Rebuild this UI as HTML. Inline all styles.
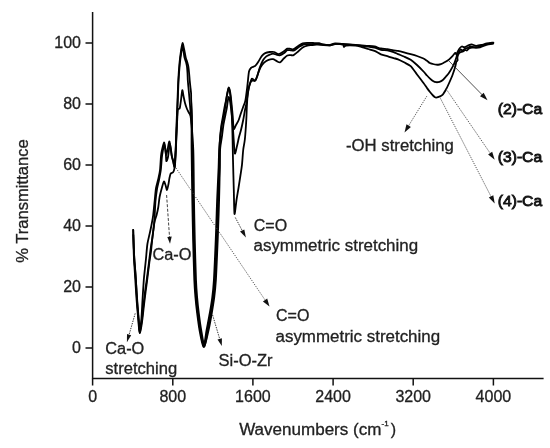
<!DOCTYPE html>
<html><head><meta charset="utf-8"><title>FTIR spectra</title>
<style>html,body{margin:0;padding:0;background:#fff;width:550px;height:448px;overflow:hidden}svg{display:block}</style>
</head><body>
<svg width="550" height="448" viewBox="0 0 550 448">
<rect width="550" height="448" fill="#fff"/>
<g stroke="#111" stroke-width="1.5" fill="none">
<path d="M92.6,12 V378.5 H543.6"/>
<path d="M85.5,348.0 H92.6"/>
<path d="M85.5,287.0 H92.6"/>
<path d="M85.5,226.0 H92.6"/>
<path d="M85.5,165.0 H92.6"/>
<path d="M85.5,104.0 H92.6"/>
<path d="M85.5,43.0 H92.6"/>
<path d="M92.6,378.6 V385.5"/>
<path d="M172.8,378.6 V385.5"/>
<path d="M252.9,378.6 V385.5"/>
<path d="M333.1,378.6 V385.5"/>
<path d="M413.2,378.6 V385.5"/>
<path d="M493.4,378.6 V385.5"/>
</g>
<g stroke="#000" stroke-width="1.8" fill="none" stroke-linejoin="round" stroke-linecap="round">
<path d="M133.20,229.80C133.28,233.16 133.56,248.97 133.80,255.00C134.04,261.03 134.63,269.00 135.00,275.00C135.37,281.00 136.16,294.00 136.60,300.00C137.04,306.00 137.91,315.60 138.30,320.00C138.69,324.40 139.10,333.00 139.50,333.00C139.90,333.00 140.90,324.40 141.30,320.00C141.70,315.60 142.17,305.33 142.50,300.00C142.83,294.67 143.47,284.27 143.80,280.00C144.13,275.73 144.71,270.87 145.00,268.00C145.29,265.13 145.68,261.70 146.00,258.50C146.32,255.30 146.92,247.28 147.40,244.00C147.88,240.72 149.05,236.43 149.60,233.90C150.15,231.37 151.02,227.52 151.50,225.00C151.98,222.48 152.77,218.27 153.20,215.00C153.63,211.73 154.33,204.07 154.70,200.50C155.07,196.93 155.51,191.15 156.00,188.20C156.49,185.25 157.87,180.83 158.40,178.40C158.93,175.97 159.65,172.99 160.00,170.00C160.35,167.01 160.73,158.67 161.00,156.00C161.27,153.33 161.60,151.80 162.00,150.00C162.40,148.20 163.57,142.77 164.00,142.50C164.43,142.23 164.93,146.33 165.20,148.00C165.47,149.67 165.69,154.73 166.00,155.00C166.31,155.27 167.03,151.80 167.50,150.00C167.97,148.20 168.97,140.83 169.50,141.50C170.03,142.17 171.03,152.53 171.50,155.00C171.97,157.47 172.61,158.53 173.00,160.00C173.39,161.47 174.05,167.33 174.40,166.00C174.75,164.67 175.32,155.47 175.60,150.00C175.88,144.53 176.25,131.67 176.50,125.00C176.75,118.33 177.26,106.00 177.50,100.00C177.74,94.00 178.03,84.93 178.30,80.00C178.57,75.07 179.14,66.87 179.50,63.00C179.86,59.13 180.60,53.67 181.00,51.00C181.40,48.33 182.06,43.13 182.50,43.00C182.94,42.87 183.87,48.08 184.30,50.00C184.73,51.92 185.31,55.80 185.70,57.40C186.09,59.00 186.84,60.75 187.20,62.00C187.56,63.25 188.15,65.33 188.40,66.80C188.65,68.27 188.93,71.21 189.10,73.00C189.27,74.79 189.53,78.33 189.70,80.20C189.87,82.07 190.21,85.23 190.40,87.00C190.59,88.77 190.99,91.77 191.10,93.50C191.21,95.23 191.08,97.13 191.20,100.00C191.32,102.87 191.85,108.33 192.00,115.00C192.15,121.67 192.17,138.67 192.30,150.00C192.43,161.33 192.80,188.00 193.00,200.00C193.20,212.00 193.53,229.33 193.80,240.00C194.07,250.67 194.69,272.40 195.00,280.00C195.31,287.60 195.73,292.60 196.10,297.00C196.47,301.40 197.25,308.60 197.80,313.00C198.35,317.40 199.37,325.44 200.20,330.00C201.03,334.56 202.88,347.20 204.00,347.20C205.12,347.20 207.56,334.56 208.60,330.00C209.64,325.44 211.04,317.40 211.80,313.00C212.56,308.60 213.75,301.40 214.30,297.00C214.85,292.60 215.50,286.27 215.90,280.00C216.30,273.73 217.01,256.67 217.30,250.00C217.59,243.33 217.86,236.67 218.10,230.00C218.34,223.33 218.87,208.40 219.10,200.00C219.33,191.60 219.73,173.67 219.80,167.00C219.87,160.33 219.55,154.13 219.60,150.00C219.65,145.87 219.93,139.47 220.20,136.00C220.47,132.53 221.20,126.80 221.60,124.00C222.00,121.20 222.80,117.27 223.20,115.00C223.60,112.73 224.24,108.87 224.60,107.00C224.96,105.13 225.54,102.87 225.90,101.00C226.26,99.13 226.91,94.80 227.30,93.00C227.69,91.20 228.40,87.50 228.80,87.50C229.20,87.50 229.91,90.67 230.30,93.00C230.69,95.33 231.37,101.80 231.70,105.00C232.03,108.20 232.53,113.80 232.80,117.00C233.07,120.20 233.27,127.93 233.70,129.00C234.13,130.07 235.33,126.20 236.00,125.00C236.67,123.80 238.03,121.60 238.70,120.00C239.37,118.40 240.36,114.87 241.00,113.00C241.64,111.13 242.91,107.68 243.50,106.00C244.09,104.32 244.88,103.11 245.40,100.40C245.92,97.69 246.92,89.55 247.40,85.70C247.88,81.85 248.48,73.91 249.00,71.50C249.52,69.09 250.47,68.35 251.30,67.60C252.13,66.85 254.24,66.73 255.20,65.90C256.16,65.07 257.61,62.73 258.50,61.40C259.39,60.07 261.01,57.01 261.90,55.90C262.79,54.79 264.16,53.62 265.20,53.10C266.24,52.58 268.51,52.15 269.70,52.00C270.89,51.85 272.91,51.71 274.10,52.00C275.29,52.29 277.33,54.27 278.60,54.20C279.87,54.13 282.44,52.23 283.60,51.50C284.76,50.77 286.38,49.06 287.30,48.70C288.22,48.34 289.66,48.73 290.50,48.80C291.34,48.87 292.57,49.57 293.60,49.20C294.63,48.83 296.99,46.77 298.20,46.00C299.41,45.23 301.49,43.81 302.70,43.40C303.91,42.99 305.93,42.95 307.30,42.90C308.67,42.85 311.43,42.96 313.00,43.00C314.57,43.04 317.81,43.03 319.10,43.20C320.39,43.37 321.25,44.06 322.70,44.30C324.15,44.54 328.35,45.13 330.00,45.00C331.65,44.87 333.41,43.45 335.10,43.30C336.79,43.15 339.98,43.69 342.70,43.90C345.42,44.11 352.95,44.70 355.50,44.90C358.05,45.10 360.11,45.28 361.80,45.40C363.49,45.52 366.51,45.65 368.20,45.80C369.89,45.95 372.81,46.14 374.50,46.50C376.19,46.86 379.19,48.14 380.90,48.50C382.61,48.86 385.61,48.95 387.30,49.20C388.99,49.45 392.17,50.17 393.60,50.40C395.03,50.63 396.61,50.65 398.00,50.90C399.39,51.15 402.31,51.87 404.00,52.30C405.69,52.73 408.97,53.61 410.70,54.10C412.43,54.59 415.29,55.41 417.00,56.00C418.71,56.59 422.17,57.86 423.50,58.50C424.83,59.14 426.16,60.20 427.00,60.80C427.84,61.40 429.00,62.57 429.80,63.00C430.60,63.43 432.15,63.77 433.00,64.00C433.85,64.23 435.33,64.63 436.20,64.70C437.07,64.77 438.66,64.66 439.50,64.50C440.34,64.34 441.63,63.89 442.50,63.50C443.37,63.11 445.15,62.12 446.00,61.60C446.85,61.08 448.01,60.37 448.90,59.60C449.79,58.83 451.85,56.69 452.70,55.80C453.55,54.91 454.79,53.07 455.30,52.90C455.81,52.73 456.17,54.69 456.50,54.50C456.83,54.31 457.40,52.30 457.80,51.50C458.20,50.70 458.97,49.17 459.50,48.50C460.03,47.83 461.20,46.67 461.80,46.50C462.40,46.33 463.41,47.20 464.00,47.20C464.59,47.20 465.61,46.75 466.20,46.50C466.79,46.25 467.68,45.59 468.40,45.30C469.12,45.01 470.59,44.23 471.60,44.30C472.61,44.37 474.69,45.71 476.00,45.80C477.31,45.89 479.95,45.32 481.40,45.00C482.85,44.68 485.30,43.72 486.90,43.40C488.50,43.08 492.53,42.71 493.40,42.60"/>
<path d="M133.20,229.80C133.32,233.16 133.78,248.97 134.10,255.00C134.42,261.03 135.21,269.00 135.60,275.00C135.99,281.00 136.60,294.00 137.00,300.00C137.40,306.00 138.23,315.60 138.60,320.00C138.97,324.40 139.37,333.00 139.80,333.00C140.23,333.00 141.31,323.73 141.80,320.00C142.29,316.27 143.07,308.73 143.50,305.00C143.93,301.27 144.57,295.33 145.00,292.00C145.43,288.67 146.18,283.88 146.70,280.00C147.22,276.12 148.42,266.73 148.90,262.90C149.38,259.07 149.95,253.95 150.30,251.30C150.65,248.65 151.21,244.93 151.50,243.00C151.79,241.07 152.17,239.20 152.50,236.80C152.83,234.40 153.71,227.91 154.00,225.00C154.29,222.09 154.50,218.20 154.70,215.00C154.90,211.80 155.19,204.47 155.50,201.00C155.81,197.53 156.53,191.80 157.00,189.00C157.47,186.20 158.49,182.53 159.00,180.00C159.51,177.47 160.43,172.93 160.80,170.00C161.17,167.07 161.53,160.53 161.80,158.00C162.07,155.47 162.45,152.80 162.80,151.00C163.15,149.20 164.00,144.23 164.40,144.50C164.80,144.77 165.55,150.80 165.80,153.00C166.05,155.20 166.01,160.47 166.30,161.00C166.59,161.53 167.51,159.27 168.00,157.00C168.49,154.73 169.47,144.00 170.00,144.00C170.53,144.00 171.56,154.60 172.00,157.00C172.44,159.40 172.93,160.67 173.30,162.00C173.67,163.33 174.45,168.60 174.80,167.00C175.15,165.40 175.63,155.60 175.90,150.00C176.17,144.40 176.55,131.67 176.80,125.00C177.05,118.33 177.56,106.00 177.80,100.00C178.04,94.00 178.33,84.80 178.60,80.00C178.87,75.20 179.45,67.60 179.80,64.00C180.15,60.40 180.83,55.40 181.20,53.00C181.57,50.60 182.17,45.47 182.60,46.00C183.03,46.53 183.95,54.87 184.40,57.00C184.85,59.13 185.65,60.69 186.00,62.00C186.35,63.31 186.80,65.33 187.00,66.80C187.20,68.27 187.39,71.21 187.50,73.00C187.61,74.79 187.68,78.33 187.80,80.20C187.92,82.07 188.24,85.23 188.40,87.00C188.56,88.77 188.79,91.10 189.00,93.50C189.21,95.90 189.73,101.73 190.00,105.00C190.27,108.27 190.56,112.00 191.00,118.00C191.44,124.00 192.90,139.07 193.30,150.00C193.70,160.93 193.80,188.00 194.00,200.00C194.20,212.00 194.53,229.33 194.80,240.00C195.07,250.67 195.69,272.40 196.00,280.00C196.31,287.60 196.73,292.60 197.10,297.00C197.47,301.40 198.25,308.60 198.80,313.00C199.35,317.40 200.43,325.53 201.20,330.00C201.97,334.47 203.75,346.50 204.60,346.50C205.45,346.50 206.77,334.47 207.60,330.00C208.43,325.53 210.04,317.40 210.80,313.00C211.56,308.60 212.75,301.40 213.30,297.00C213.85,292.60 214.50,286.27 214.90,280.00C215.30,273.73 216.01,256.67 216.30,250.00C216.59,243.33 216.86,236.67 217.10,230.00C217.34,223.33 217.77,208.40 218.10,200.00C218.43,191.60 219.33,173.67 219.60,167.00C219.87,160.33 219.97,152.93 220.10,150.00C220.23,147.07 220.33,146.96 220.60,145.00C220.87,143.04 221.73,137.97 222.10,135.30C222.47,132.63 222.96,127.71 223.40,125.00C223.84,122.29 224.95,117.27 225.40,115.00C225.85,112.73 226.48,109.87 226.80,108.00C227.12,106.13 227.56,102.47 227.80,101.00C228.04,99.53 228.33,97.13 228.60,97.00C228.87,96.87 229.48,98.53 229.80,100.00C230.12,101.47 230.67,105.33 231.00,108.00C231.33,110.67 231.98,116.40 232.30,120.00C232.62,123.60 233.07,130.55 233.40,135.00C233.73,139.45 234.32,151.93 234.80,153.40C235.28,154.87 236.44,148.19 237.00,146.00C237.56,143.81 238.47,139.13 239.00,137.00C239.53,134.87 240.44,132.27 241.00,130.00C241.56,127.73 242.67,122.67 243.20,120.00C243.73,117.33 244.56,112.27 245.00,110.00C245.44,107.73 246.13,105.27 246.50,103.00C246.87,100.73 247.47,95.13 247.80,93.00C248.13,90.87 248.69,88.33 249.00,87.00C249.31,85.67 249.73,84.11 250.10,83.00C250.47,81.89 251.35,79.17 251.80,78.70C252.25,78.23 253.05,79.27 253.50,79.50C253.95,79.73 254.68,80.87 255.20,80.40C255.72,79.93 256.81,77.64 257.40,76.00C257.99,74.36 258.85,70.19 259.60,68.10C260.35,66.01 262.11,61.86 263.00,60.30C263.89,58.74 265.41,57.15 266.30,56.40C267.19,55.65 268.81,55.07 269.70,54.70C270.59,54.33 272.11,53.60 273.00,53.60C273.89,53.60 275.51,54.47 276.40,54.70C277.29,54.93 278.66,55.53 279.70,55.30C280.74,55.07 283.19,53.68 284.20,53.00C285.21,52.32 286.46,50.56 287.30,50.20C288.14,49.84 289.66,50.25 290.50,50.30C291.34,50.35 292.57,50.97 293.60,50.60C294.63,50.23 296.99,48.27 298.20,47.50C299.41,46.73 301.49,45.24 302.70,44.80C303.91,44.36 305.93,44.28 307.30,44.20C308.67,44.12 311.44,44.20 313.00,44.20C314.56,44.20 316.73,44.07 319.00,44.20C321.27,44.33 327.85,45.25 330.00,45.20C332.15,45.15 333.41,43.92 335.10,43.80C336.79,43.68 339.98,44.11 342.70,44.30C345.42,44.49 352.95,45.00 355.50,45.20C358.05,45.40 360.11,45.61 361.80,45.80C363.49,45.99 366.51,46.36 368.20,46.60C369.89,46.84 372.81,47.17 374.50,47.60C376.19,48.03 379.19,49.43 380.90,49.80C382.61,50.17 385.61,50.09 387.30,50.40C388.99,50.71 392.17,51.61 393.60,52.10C395.03,52.59 396.61,53.51 398.00,54.10C399.39,54.69 402.31,55.74 404.00,56.50C405.69,57.26 408.97,58.67 410.70,59.80C412.43,60.93 415.29,63.44 417.00,65.00C418.71,66.56 422.17,70.10 423.50,71.50C424.83,72.90 426.16,74.59 427.00,75.50C427.84,76.41 429.00,77.57 429.80,78.30C430.60,79.03 432.15,80.48 433.00,81.00C433.85,81.52 435.33,82.09 436.20,82.20C437.07,82.31 438.66,82.05 439.50,81.80C440.34,81.55 441.63,81.01 442.50,80.30C443.37,79.59 445.15,77.47 446.00,76.50C446.85,75.53 448.01,74.32 448.90,73.00C449.79,71.68 451.95,67.96 452.70,66.60C453.45,65.24 453.99,64.08 454.50,62.80C455.01,61.52 456.10,58.24 456.50,57.00C456.90,55.76 457.17,54.23 457.50,53.50C457.83,52.77 458.57,52.03 459.00,51.50C459.43,50.97 460.23,49.63 460.70,49.50C461.17,49.37 461.99,50.57 462.50,50.50C463.01,50.43 463.94,49.31 464.50,49.00C465.06,48.69 466.17,48.40 466.70,48.20C467.23,48.00 467.99,47.73 468.50,47.50C469.01,47.27 469.63,46.54 470.50,46.50C471.37,46.46 473.73,47.20 475.00,47.20C476.27,47.20 478.48,46.90 480.00,46.50C481.52,46.10 484.64,44.64 486.40,44.20C488.16,43.76 492.29,43.33 493.20,43.20"/>
<path d="M133.30,235.00C133.45,238.33 134.05,254.00 134.40,260.00C134.75,266.00 135.53,274.67 135.90,280.00C136.27,285.33 136.81,294.67 137.20,300.00C137.59,305.33 138.41,315.60 138.80,320.00C139.19,324.40 139.63,333.00 140.10,333.00C140.57,333.00 141.78,323.73 142.30,320.00C142.82,316.27 143.56,308.73 144.00,305.00C144.44,301.27 145.17,295.33 145.60,292.00C146.03,288.67 146.71,283.88 147.20,280.00C147.69,276.12 148.79,266.73 149.30,262.90C149.81,259.07 150.57,254.78 151.00,251.30C151.43,247.82 152.03,240.71 152.50,236.80C152.97,232.89 153.95,224.91 154.50,222.00C155.05,219.09 156.09,217.00 156.60,215.00C157.11,213.00 157.90,209.40 158.30,207.00C158.70,204.60 159.09,199.67 159.60,197.00C160.11,194.33 161.53,189.07 162.10,187.00C162.67,184.93 163.45,181.77 163.90,181.50C164.35,181.23 165.09,183.87 165.50,185.00C165.91,186.13 166.60,190.13 167.00,190.00C167.40,189.87 168.18,185.55 168.50,184.00C168.82,182.45 169.11,179.80 169.40,178.40C169.69,177.00 170.21,174.31 170.70,173.50C171.19,172.69 172.61,172.95 173.10,172.30C173.59,171.65 174.12,170.24 174.40,168.60C174.68,166.96 174.96,163.81 175.20,160.00C175.44,156.19 175.93,145.33 176.20,140.00C176.47,134.67 176.99,124.00 177.20,120.00C177.41,116.00 177.56,111.50 177.80,110.00C178.04,108.50 178.73,109.02 179.00,108.75C179.27,108.48 179.53,109.17 179.80,108.00C180.07,106.83 180.67,102.37 181.00,100.00C181.33,97.63 181.97,90.73 182.30,90.20C182.63,89.67 183.14,94.29 183.50,96.00C183.86,97.71 184.53,101.27 185.00,103.00C185.47,104.73 186.49,107.73 187.00,109.00C187.51,110.27 188.33,111.57 188.80,112.50C189.27,113.43 190.14,114.33 190.50,116.00C190.86,117.67 191.35,120.47 191.50,125.00C191.65,129.53 191.49,140.00 191.60,150.00C191.71,160.00 192.10,188.00 192.30,200.00C192.50,212.00 192.83,229.33 193.10,240.00C193.37,250.67 193.99,272.40 194.30,280.00C194.61,287.60 195.03,292.60 195.40,297.00C195.77,301.40 196.55,308.60 197.10,313.00C197.65,317.40 198.66,325.47 199.50,330.00C200.34,334.53 202.45,347.00 203.40,347.00C204.35,347.00 205.75,334.53 206.60,330.00C207.45,325.47 209.04,317.40 209.80,313.00C210.56,308.60 211.75,301.40 212.30,297.00C212.85,292.60 213.50,286.27 213.90,280.00C214.30,273.73 215.01,256.67 215.30,250.00C215.59,243.33 215.86,236.67 216.10,230.00C216.34,223.33 216.77,208.40 217.10,200.00C217.43,191.60 218.33,173.67 218.60,167.00C218.87,160.33 218.86,154.23 219.10,150.00C219.34,145.77 220.04,138.63 220.40,135.30C220.76,131.97 221.40,127.23 221.80,125.00C222.20,122.77 223.00,120.60 223.40,118.60C223.80,116.60 224.47,112.24 224.80,110.00C225.13,107.76 225.57,103.93 225.90,101.80C226.23,99.67 226.91,95.84 227.30,94.00C227.69,92.16 228.39,87.73 228.80,88.00C229.21,88.27 230.04,93.07 230.40,96.00C230.76,98.93 231.26,106.13 231.50,110.00C231.74,113.87 232.05,121.00 232.20,125.00C232.35,129.00 232.49,135.33 232.60,140.00C232.71,144.67 232.84,153.33 233.00,160.00C233.16,166.67 233.60,182.80 233.80,190.00C234.00,197.20 234.14,212.67 234.50,214.00C234.86,215.33 235.97,203.47 236.50,200.00C237.03,196.53 237.97,191.33 238.50,188.00C239.03,184.67 240.03,178.12 240.50,175.00C240.97,171.88 241.64,167.93 242.00,164.60C242.36,161.27 242.81,153.41 243.20,150.00C243.59,146.59 244.49,143.00 244.90,139.00C245.31,135.00 246.05,124.13 246.30,120.00C246.55,115.87 246.65,110.93 246.80,108.00C246.95,105.07 247.19,100.40 247.40,98.00C247.61,95.60 248.11,91.73 248.40,90.00C248.69,88.27 249.25,86.13 249.60,85.00C249.95,83.87 250.60,82.10 251.00,81.50C251.40,80.90 252.13,80.57 252.60,80.50C253.07,80.43 254.05,81.13 254.50,81.00C254.95,80.87 255.56,80.43 256.00,79.50C256.44,78.57 257.17,75.67 257.80,74.00C258.43,72.33 259.86,68.52 260.70,67.00C261.54,65.48 263.05,63.56 264.10,62.60C265.15,61.64 267.41,60.25 268.60,59.80C269.79,59.35 271.96,59.05 273.00,59.20C274.04,59.35 275.47,60.47 276.40,60.90C277.33,61.33 279.04,62.69 280.00,62.40C280.96,62.11 282.63,59.62 283.60,58.70C284.57,57.78 286.38,55.97 287.30,55.50C288.22,55.03 289.66,55.25 290.50,55.20C291.34,55.15 292.57,55.59 293.60,55.10C294.63,54.61 296.99,52.53 298.20,51.50C299.41,50.47 301.49,48.19 302.70,47.40C303.91,46.61 306.09,45.91 307.30,45.60C308.51,45.29 310.59,45.22 311.80,45.10C313.01,44.98 315.17,44.74 316.40,44.70C317.63,44.66 319.19,44.69 321.00,44.80C322.81,44.91 328.12,45.61 330.00,45.50C331.88,45.39 333.41,44.13 335.10,44.00C336.79,43.87 341.51,44.10 342.70,44.50C343.89,44.90 343.56,46.87 344.00,47.00C344.44,47.13 344.47,45.69 346.00,45.50C347.53,45.31 353.39,45.39 355.50,45.60C357.61,45.81 360.11,46.65 361.80,47.10C363.49,47.55 366.51,48.49 368.20,49.00C369.89,49.51 372.81,50.19 374.50,50.90C376.19,51.61 379.19,53.59 380.90,54.30C382.61,55.01 385.61,55.69 387.30,56.20C388.99,56.71 392.17,57.69 393.60,58.10C395.03,58.51 396.61,58.74 398.00,59.30C399.39,59.86 402.31,61.38 404.00,62.30C405.69,63.22 408.97,64.57 410.70,66.20C412.43,67.83 415.29,72.26 417.00,74.50C418.71,76.74 422.17,81.20 423.50,83.00C424.83,84.80 426.16,86.83 427.00,88.00C427.84,89.17 429.00,90.80 429.80,91.80C430.60,92.80 432.24,94.74 433.00,95.50C433.76,96.26 434.83,97.27 435.50,97.50C436.17,97.73 437.07,97.56 438.00,97.20C438.93,96.84 441.43,95.83 442.50,94.80C443.57,93.77 445.15,91.01 446.00,89.50C446.85,87.99 448.01,85.50 448.90,83.50C449.79,81.50 451.85,76.77 452.70,74.50C453.55,72.23 454.82,68.17 455.30,66.50C455.78,64.83 455.99,62.83 456.30,62.00C456.61,61.17 457.45,60.90 457.60,60.30C457.75,59.70 457.28,58.34 457.40,57.50C457.52,56.66 458.15,54.67 458.50,54.00C458.85,53.33 459.40,52.83 460.00,52.50C460.60,52.17 462.33,51.83 463.00,51.50C463.67,51.17 464.47,50.13 465.00,50.00C465.53,49.87 466.47,50.70 467.00,50.50C467.53,50.30 468.33,48.90 469.00,48.50C469.67,48.10 471.07,47.59 472.00,47.50C472.93,47.41 474.93,47.83 476.00,47.80C477.07,47.77 478.61,47.70 480.00,47.30C481.39,46.90 484.64,45.29 486.40,44.80C488.16,44.31 492.29,43.76 493.20,43.60"/>
</g>
<g fill="none">
<path d="M448.5,60.5 L482.59,95.21" stroke="#222" stroke-width="0.8"/>
<path d="M446,88.8 L490.74,154.03" stroke="#444" stroke-width="0.9" stroke-dasharray="1.2,1.1"/>
<path d="M440,97.5 L491.49,197.38" stroke="#444" stroke-width="0.9" stroke-dasharray="1.2,1.1"/>
<path d="M426.8,96.2 L408.17,126.44" stroke="#444" stroke-width="0.9" stroke-dasharray="1.2,1.1"/>
<path d="M235.3,217.5 L242.63,231.41" stroke="#333" stroke-width="1.0" stroke-dasharray="1.4,1.1"/>
<path d="M176,168 L265.59,300.80" stroke="#444" stroke-width="0.9" stroke-dasharray="1.2,1.3"/>
<path d="M166.6,195 L169.58,237.71" stroke="#444" stroke-width="1.0" stroke-dasharray="3,1.6"/>
<path d="M135.2,313.4 L128.83,335.57" stroke="#333" stroke-width="1.0" stroke-dasharray="1.4,1.1"/>
<path d="M212.6,315 L219.95,339.77" stroke="#333" stroke-width="1.0" stroke-dasharray="1.4,1.1"/>
</g>
<g fill="#111"><path d="M487.5,100.2 L480.0,96.3 L483.7,92.7 Z"/><path d="M494.7,159.8 L488.1,154.6 L492.2,151.8 Z"/><path d="M494.7,203.6 L488.8,197.6 L493.3,195.3 Z"/><path d="M404.5,132.4 L406.5,124.2 L410.9,127.0 Z"/><path d="M245.9,237.6 L240.0,231.6 L244.3,229.4 Z"/><path d="M269.5,306.6 L262.9,301.4 L267.2,298.5 Z"/><path d="M170.0,243.7 L167.3,236.9 L171.7,236.6 Z"/><path d="M126.9,342.3 L127.0,334.0 L131.2,335.2 Z"/><path d="M221.8,346.0 L217.5,339.5 L221.9,338.2 Z"/></g>
<g font-family="Liberation Sans, sans-serif" stroke="#222" stroke-width="0.3" font-size="16" fill="#222">
<text x="81" y="353.2" text-anchor="end">0</text>
<text x="81" y="292.2" text-anchor="end">20</text>
<text x="81" y="231.2" text-anchor="end">40</text>
<text x="81" y="170.2" text-anchor="end">60</text>
<text x="81" y="109.2" text-anchor="end">80</text>
<text x="81" y="48.2" text-anchor="end">100</text>
<text x="92.6" y="402.3" text-anchor="middle">0</text>
<text x="172.8" y="402.3" text-anchor="middle">800</text>
<text x="252.9" y="402.3" text-anchor="middle">1600</text>
<text x="333.1" y="402.3" text-anchor="middle">2400</text>
<text x="413.2" y="402.3" text-anchor="middle">3200</text>
<text x="493.4" y="402.3" text-anchor="middle">4000</text>
</g>
<text font-family="Liberation Sans, sans-serif" stroke="#222" stroke-width="0.3" font-size="16" fill="#222" x="239.2" y="434.5" textLength="142.2" lengthAdjust="spacingAndGlyphs">Wavenumbers (cm</text>
<text font-family="Liberation Sans, sans-serif" stroke="#222" stroke-width="0.3" font-size="8" fill="#222" x="381.6" y="425.6">-1</text>
<text font-family="Liberation Sans, sans-serif" stroke="#222" stroke-width="0.3" font-size="16" fill="#222" x="390.8" y="434.5">)</text>
<text font-family="Liberation Sans, sans-serif" stroke="#222" stroke-width="0.3" font-size="16.5" fill="#222" transform="translate(28.4,262.8) rotate(-90)" textLength="123.5" lengthAdjust="spacingAndGlyphs">% Transmittance</text>
<text font-family="Liberation Sans, sans-serif" stroke="#222" stroke-width="0.3" font-size="16" fill="#222" x="253.8" y="230.5">C=O</text>
<text font-family="Liberation Sans, sans-serif" stroke="#222" stroke-width="0.3" font-size="16" fill="#222" x="253.5" y="251" textLength="164.6" lengthAdjust="spacingAndGlyphs">asymmetric stretching</text>
<text font-family="Liberation Sans, sans-serif" stroke="#222" stroke-width="0.3" font-size="16" fill="#222" x="276" y="320.8">C=O</text>
<text font-family="Liberation Sans, sans-serif" stroke="#222" stroke-width="0.3" font-size="16" fill="#222" x="275.5" y="342" textLength="164.6" lengthAdjust="spacingAndGlyphs">asymmetric stretching</text>
<text font-family="Liberation Sans, sans-serif" stroke="#222" stroke-width="0.3" font-size="16" fill="#222" x="346" y="150.5" textLength="107.8" lengthAdjust="spacingAndGlyphs">-OH stretching</text>
<text font-family="Liberation Sans, sans-serif" stroke="#222" stroke-width="0.3" font-size="16" fill="#222" x="152.5" y="259.6" textLength="39" lengthAdjust="spacingAndGlyphs">Ca-O</text>
<text font-family="Liberation Sans, sans-serif" stroke="#222" stroke-width="0.3" font-size="16" fill="#222" x="105.3" y="353.9" textLength="39" lengthAdjust="spacingAndGlyphs">Ca-O</text>
<text font-family="Liberation Sans, sans-serif" stroke="#222" stroke-width="0.3" font-size="16" fill="#222" x="105.3" y="374.3" textLength="71.8" lengthAdjust="spacingAndGlyphs">stretching</text>
<text font-family="Liberation Sans, sans-serif" stroke="#222" stroke-width="0.3" font-size="16" fill="#222" x="218.5" y="366.2" textLength="54" lengthAdjust="spacingAndGlyphs">Si-O-Zr</text>
<text font-family="Liberation Sans, sans-serif" stroke="#111" stroke-width="0.85" font-size="15" fill="#111" x="497.8" y="113.6" textLength="44.3" lengthAdjust="spacingAndGlyphs">(2)-Ca</text>
<text font-family="Liberation Sans, sans-serif" stroke="#111" stroke-width="0.85" font-size="15" fill="#111" x="497.8" y="162.2" textLength="44.3" lengthAdjust="spacingAndGlyphs">(3)-Ca</text>
<text font-family="Liberation Sans, sans-serif" stroke="#111" stroke-width="0.85" font-size="15" fill="#111" x="497.8" y="206.2" textLength="44.3" lengthAdjust="spacingAndGlyphs">(4)-Ca</text>
</svg>
</body></html>
